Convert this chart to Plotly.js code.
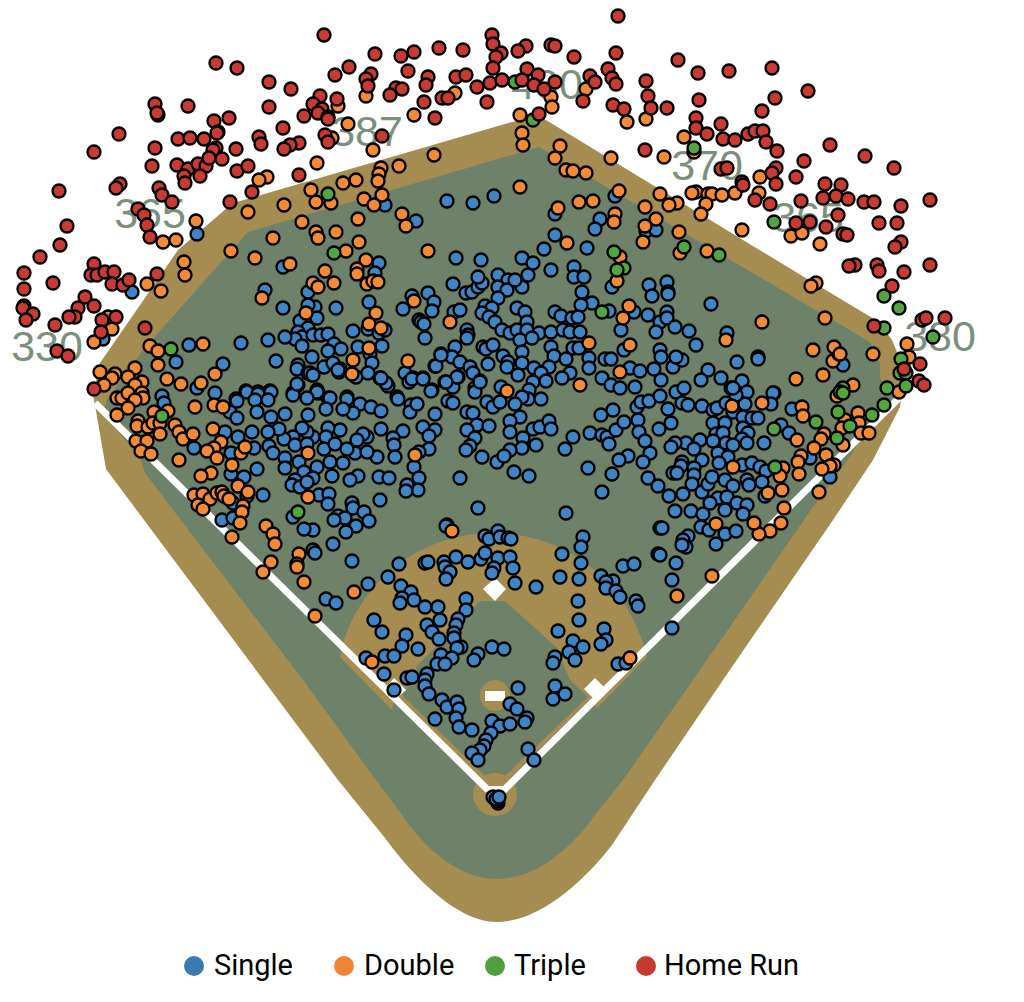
<!DOCTYPE html>
<html><head><meta charset="utf-8">
<script src="https://cdn.plot.ly/plotly-3.0.1.min.js"></script>
<style>html,body{margin:0;padding:0;background:#fff}#c{width:1024px;height:1002px}</style>
</head><body><div id="c"></div>
<script>
const categories=["Single","Double","Triple","Home Run"];
const distanceLabels=["330","365","387","400","370","365","380"];
const distanceX=[47,150,367,547,707,808,940];
const distanceY=[350,217,135,88,169,221,340];
const keyX=[194,344,495,646];
const keyTextX=[214,364,514,664];
const singlePts=[[197,234],[132,292],[103,339],[283,267],[447,201],[473,203],[494,196],[385,205],[416,221],[456,258],[481,260],[379,263],[375,273],[265,290],[308,292],[283,308],[336,308],[369,302],[315,307],[308,305],[300,321],[317,318],[308,328],[298,332],[302,337],[295,339],[285,337],[268,340],[241,343],[189,345],[302,346],[313,335],[321,335],[328,334],[334,344],[341,349],[328,351],[353,331],[368,329],[379,333],[385,330],[382,346],[358,347],[370,354],[372,363],[312,357],[276,361],[223,364],[176,362],[298,365],[297,369],[308,373],[312,375],[324,367],[333,363],[340,369],[339,372],[356,377],[368,373],[380,378],[388,386],[386,383],[298,385],[293,393],[317,390],[318,393],[270,391],[268,393],[258,392],[246,391],[236,399],[215,393],[197,388],[162,396],[347,397],[328,398],
[412,296],[428,293],[434,302],[432,311],[403,309],[454,312],[460,310],[419,320],[421,322],[424,324],[425,338],[453,284],[466,293],[472,292],[478,287],[482,283],[478,277],[498,275],[508,280],[498,287],[507,290],[498,298],[485,306],[492,308],[482,313],[489,317],[495,322],[502,330],[510,333],[467,330],[468,335],[467,338],[455,347],[441,354],[452,357],[460,362],[470,367],[435,366],[483,347],[486,349],[493,345],[503,356],[488,364],[508,362],[423,378],[405,373],[409,382],[413,378],[445,382],[453,387],[458,377],[473,373],[480,381],[475,388],[501,387],[432,390],[397,397],
[310,373],[313,375],[338,370],[381,378],[412,379],[423,379],[431,391],[436,366],[441,355],
[164,403],[247,392],[258,394],[271,392],[237,401],[255,400],[268,400],[293,395],[297,384],[317,392],[307,398],[330,398],[347,399],[360,404],[371,407],[381,411],[353,413],[343,409],[326,409],[308,415],[285,414],[271,417],[257,412],[230,412],[237,418],[398,399],[411,405],[410,412],[417,404],[435,414],[448,401],[453,403],[467,412],[473,413],[477,425],[489,426],[467,430],[475,438],[470,446],[466,450],[482,457],[497,462],[460,478],[478,508],[447,525],
[475,392],[480,382],[487,402],[493,407],[457,377],[446,382],
[423,427],[435,430],[429,436],[429,449],[419,452],[403,431],[393,438],[394,445],[395,457],[377,457],[381,429],[367,437],[363,434],[357,440],[355,453],[367,452],[340,430],[328,428],[326,437],[313,437],[307,432],[302,428],[293,437],[284,439],[279,429],[268,432],[252,432],[238,437],[225,432],[254,448],[269,446],[273,453],[295,445],[307,444],[324,449],[335,444],[347,449],[330,462],[343,463],[317,467],[299,462],[285,458],[285,468],[304,472],[313,478],[332,476],[358,476],[350,480],[379,477],[389,478],[414,467],[419,478],[418,490],[407,485],[406,491],[380,500],[295,480],[292,485],[300,487],[307,482],[257,469],[231,453],[231,474],[244,477],[247,496],[263,495],[233,503],[222,520],[233,518],[194,448],[319,495],[329,494],[328,504],[352,503],[353,508],[364,512],[338,516],[345,518],[334,520],[369,521],[356,526],[346,532],[333,544],[313,530],[304,529],[293,517],[313,550],[315,553],[352,561],[326,599],[336,603],[368,584],[388,577],[399,564],
[446,526],[425,563],[428,562],[444,562],[445,567],[450,572],[446,579],[456,557],[468,562],[481,559],[485,553],[485,536],[489,539],[498,531],[500,537],[508,538],[511,539],[498,558],[510,557],[494,568],[492,573],[513,568],[515,583],[536,587],[562,554],[583,537],[581,547],[581,563],[560,577],[579,579],[578,601],[579,620],[623,566],[634,564],[601,576],[613,581],[606,582],[606,588],[616,591],[620,597],[636,601],[638,606],[658,554],[660,528],
[401,586],[411,592],[402,598],[400,603],[414,600],[425,607],[438,607],[466,599],[466,610],[440,620],[458,619],[456,625],[374,620],[382,632],[427,625],[432,632],[454,633],[454,638],[439,639],[406,635],[402,646],[418,649],[461,647],[457,648],[492,647],[504,649],[478,654],[474,660],[441,655],[452,658],[437,664],[445,664],[385,656],[394,656],[366,658],[384,674],[394,690],[407,678],[412,677],[427,674],[425,680],[425,686],[429,694],[442,700],[447,707],[457,702],[459,709],[456,718],[435,719],[459,727],[472,730],[492,721],[500,726],[510,724],[510,704],[517,709],[527,718],[525,722],[518,688],[491,733],[486,740],[484,746],[480,750],[472,753],[478,760],[528,749],[534,760],
[558,631],[555,657],[553,663],[573,641],[583,647],[569,652],[575,660],[604,629],[606,640],[601,644],[618,664],[626,663],[555,686],[565,694],[553,699],[498,803],[497,801],[493,797],[496,799],[499,797],
[615,196],[555,214],[600,219],[595,229],[646,231],[656,230],[555,235],[544,249],[587,248],[522,258],[533,263],[551,270],[574,267],[574,277],[584,277],[528,275],[522,287],[515,280],[582,292],[612,287],[649,285],[667,282],[652,296],[668,292],[668,294],[711,304],[592,303],[581,305],[609,311],[634,312],[555,312],[561,316],[572,318],[578,317],[667,312],[648,315],[660,322],[667,318],[675,327],[689,331],[656,332],[621,330],[727,333],[696,345],[517,308],[525,312],[527,322],[517,330],[527,330],[539,333],[551,332],[563,330],[570,332],[580,332],[520,340],[532,338],[551,347],[573,348],[579,348],[522,352],[624,350],[660,350],[661,357],
[554,356],[566,359],[589,358],[522,363],[534,368],[549,367],[541,373],[570,373],[562,378],[589,368],[605,359],[611,359],[630,368],[640,371],[654,369],[673,367],[682,360],[676,357],[661,380],[602,378],[611,385],[620,388],[635,387],[708,370],[701,380],[721,378],[737,362],[758,357],[758,359],[742,381],[731,388],[747,392],[774,393],[843,365],
[507,367],[518,375],[533,382],[546,381],[529,390],[528,399],[541,399],[522,397],[515,404],[500,402],[520,417],[510,421],[510,432],[533,429],[540,427],[549,421],[551,429],[523,438],[536,445],[522,448],[510,450],[504,456],[514,472],[529,476],[565,449],[573,437],[590,433],[602,435],[607,437],[609,444],[616,430],[624,422],[638,420],[639,432],[645,441],[650,453],[643,462],[628,456],[619,460],[601,415],[613,410],[588,468],[612,474],[602,492],[566,513],[648,478],[658,486],[669,496],[683,494],[675,511],[691,511],[703,514],[662,528],[701,527],[709,530],[725,534],[736,531],[716,544],[688,536],[683,540],[686,547],[682,545],[660,555],[676,563],[672,580],[672,628],
[659,429],[671,423],[637,407],[641,402],[649,401],[660,396],[676,392],[684,388],[668,409],[682,403],[688,405],[702,406],[713,410],[717,408],[726,403],[733,412],[745,404],[743,417],[752,418],[758,418],[713,423],[725,423],[743,428],[748,433],[716,434],[723,433],[742,439],[747,443],[726,443],[733,445],[713,441],[700,440],[686,443],[675,443],[671,447],[694,449],[702,460],[718,453],[728,457],[719,463],[682,462],[681,466],[673,473],[677,473],[694,468],[694,475],[692,484],[702,492],[708,484],[712,477],[725,480],[733,486],[742,465],[752,463],[760,467],[766,471],[747,480],[749,485],[762,482],[765,496],[718,498],[727,497],[710,503],[737,503],[747,505],[743,514],[725,510],[792,409],[781,425],[789,433],[764,443],[810,458],[830,477],[773,393],[771,404],[736,395],[733,388]];
const doublePts=[[366,96],[338,106],[455,93],[414,115],[348,124],[332,138],[373,150],[434,155],[399,166],[317,163],[267,177],[259,180],[381,168],[379,174],[378,181],[356,180],[343,183],[311,190],[382,195],[364,199],[374,205],[316,202],[331,203],[284,205],[248,212],[196,221],[402,214],[406,226],[358,219],[302,222],[316,232],[318,238],[336,232],[273,238],[359,242],[346,251],[428,251],[231,251],[255,258],[163,242],[176,240],[184,262],[185,275],[290,264],[366,260],[325,271],[357,269],[357,274],[334,283],[313,283],[318,287],[367,284],[373,281],[378,282],[147,284],[161,291],[262,298],[414,301],[306,313],[376,313],[450,322],[108,317],[112,329],[369,324],[381,328],[94,342],[203,344],[150,346],[158,351],[369,348],[353,360],[408,361],
[100,372],[115,374],[112,378],[104,385],[135,368],[128,377],[142,382],[135,385],[158,365],[167,379],[181,384],[201,383],[215,374],[117,398],[122,398],[128,393],[142,393],[143,398],[135,400],[128,408],[117,415],[154,412],[168,411],[138,421],[137,426],[148,427],[153,423],[160,423],[160,434],[175,425],[179,432],[183,439],[193,434],[195,407],[214,405],[223,407],[213,429],[221,442],[214,448],[207,451],[217,458],[136,441],[147,441],[141,451],[151,454],[179,460],[232,465],[241,453],[245,447],[211,473],[201,476],[238,486],[248,492],[194,495],[203,494],[210,499],[217,493],[222,492],[224,496],[229,499],[198,505],[203,509],[243,506],[242,512],[240,523],[266,526],[273,534],[275,544],[232,537],[271,562],[263,572],[299,554],[297,564],[297,567],[304,582],[354,592],[315,616],[308,453],[308,497],[352,374],[415,455],[452,531],[372,662],
[507,391],[580,385],[620,372],[732,406],[762,403],[802,407],[803,416],[796,379],[823,375],[833,361],[839,354],[813,350],[873,354],[853,385],[837,396],[899,392],[858,413],[845,420],[859,423],[842,428],[861,433],[869,433],[843,445],[824,434],[821,439],[814,448],[797,440],[801,456],[798,462],[826,455],[834,465],[830,466],[822,469],[799,474],[783,468],[780,476],[782,490],[768,493],[733,467],[819,492],[784,508],[781,523],[770,531],[759,534],[754,523],[716,524],[712,576],[677,596],[630,658],
[586,89],[551,97],[552,107],[520,115],[522,133],[523,145],[560,146],[555,158],[627,122],[646,119],[684,137],[611,158],[664,157],[694,152],[566,170],[573,171],[586,173],[520,187],[760,177],[619,191],[660,194],[696,192],[692,193],[708,194],[712,194],[722,195],[735,193],[759,193],[677,203],[669,205],[706,204],[701,214],[558,208],[579,202],[593,201],[645,207],[656,219],[615,214],[614,222],[645,226],[679,232],[643,242],[742,230],[791,236],[802,233],[820,244],[567,243],[707,251],[680,253],[620,257],[617,281],[816,283],[811,286],[629,306],[623,318],[762,322],[825,318],[907,344],[589,343],[630,345],[726,340],[834,347],[840,354],[909,357]];
const triplePts=[[328,194],[334,253],[171,349],[162,416],[298,512],[515,82],[533,120],[694,148],[774,222],[684,247],[719,255],[614,252],[624,268],[617,270],[602,312],[884,296],[899,308],[884,328],[933,337],[901,359],[900,373],[906,373],[906,386],[887,388],[843,388],[840,392],[884,405],[872,415],[816,422],[838,412],[843,393],[850,426],[837,438],[774,429],[775,467]];
const homerunPts=[[324,35],[216,63],[237,68],[269,82],[291,89],[375,54],[349,67],[335,75],[371,74],[366,79],[368,86],[401,56],[414,52],[439,48],[463,50],[492,35],[493,44],[501,53],[496,57],[493,68],[408,71],[428,77],[426,85],[456,77],[466,75],[477,87],[490,83],[502,80],[396,88],[402,89],[390,95],[424,102],[442,98],[448,98],[487,102],[435,118],[320,96],[337,99],[313,104],[322,109],[318,113],[328,117],[328,119],[304,116],[269,107],[283,128],[155,104],[158,115],[157,113],[188,106],[214,121],[229,118],[218,132],[217,133],[259,137],[261,144],[119,134],[94,152],[155,148],[178,139],[190,138],[204,139],[216,148],[213,150],[236,149],[299,143],[290,145],[284,149],[325,135],[328,142],[382,136],[152,166],[177,165],[188,169],[198,164],[206,166],[209,158],[222,159],[184,176],[185,183],[200,176],[237,171],[248,166],[299,175],[120,184],[116,188],[59,191],[159,188],[162,195],[172,202],[230,202],[252,192],[138,209],[144,215],[147,225],[150,237],[67,226],[60,245],[40,257],[94,264],[24,273],[91,275],[97,275],[105,272],[114,272],[112,284],[123,285],[129,280],[157,274],[53,283],[24,289],[85,297],[94,306],[78,308],[75,317],[69,317],[24,306],[23,308],[33,314],[26,320],[55,325],[116,317],[102,320],[101,332],[145,328],[57,351],[68,356],[94,389],
[618,16],[526,46],[518,51],[551,45],[555,46],[574,57],[616,53],[678,60],[698,73],[729,71],[772,68],[808,91],[775,98],[527,69],[538,75],[522,80],[534,85],[544,89],[555,82],[590,76],[595,82],[608,69],[612,78],[616,84],[646,81],[648,96],[651,108],[667,108],[699,100],[762,111],[583,101],[613,105],[624,109],[539,114],[696,118],[696,128],[707,134],[721,124],[723,139],[735,140],[748,134],[755,131],[763,131],[766,142],[777,151],[830,145],[865,156],[894,168],[804,161],[645,150],[721,169],[727,168],[776,168],[772,173],[796,177],[742,182],[743,185],[776,184],[825,184],[841,185],[836,196],[823,198],[848,199],[864,202],[874,202],[901,206],[930,200],[801,201],[755,200],[770,204],[838,215],[796,223],[810,222],[826,227],[879,223],[897,223],[843,234],[847,235],[901,242],[895,247],[855,265],[849,266],[877,265],[879,271],[904,272],[930,265],[892,286],[874,326],[922,320],[926,318],[945,318],[920,364],[904,369],[919,381],[924,385]];

const TAN="#a58c51",GRASS="#6e8269",LABEL="#7a907c";
const fill=(path,color)=>({type:"path",path,fillcolor:color,line:{width:0},layer:"below"});
const shapes=[
 fill("M93,395 L100,363 L178,250 L227,208 L237,202 L512,122 L530,118 L541,117 L809,280 L879,322 L892,340 L899,357 L903,385 L900,407 L873,460 L833,520 L723,680 L655,780 L612,845 C585,880 540,922 497,922 C455,922 410,872 385,838 L338,780 L106,469 L95,405 Z",TAN),
 fill("M103,412 L107,400 L125,375 L143,350 L248,232 L512,155 L539,147 L552,155 L870,342 L880,363 L880,377 L886,390 L897,400 L862,436 L853,452 L813,507 L693,680 L623,780 L595,815 C570,850 535,879 497,879 C460,879 425,850 400,812 L376,780 L303,680 L145,473 L140,458 Z",GRASS),
 fill("M340,657 L343,643 C364,577 424,533 493,533 C562,533 622,577 643,643 L647,657 L597,708 L589,700 L503,785 L487,785 L395,700 L392,710 Z",TAN),
 fill("M480,601 L505,601 L557,648 L567,673 L570,680 L588,697 L503,778 L487,778 L402,695 L418,673 L416,667 Z",GRASS),
 {type:"circle",xref:"x",yref:"y",x0:480,x1:510,y0:680,y1:711,fillcolor:TAN,line:{width:0},layer:"below"},
 {type:"circle",xref:"x",yref:"y",x0:473,x1:517,y0:773,y1:816,fillcolor:TAN,line:{width:0},layer:"below"},
 {type:"rect",x0:485,x1:505,y0:691,y1:701,fillcolor:"#fff",line:{width:0},layer:"below"},
 {type:"line",x0:95,y0:403,x1:488,y1:790,line:{color:"#fff",width:7},layer:"below"},
 {type:"line",x0:900,y0:397,x1:502,y1:792,line:{color:"#fff",width:7},layer:"below"},
 {type:"rect",x0:487,x1:503,y0:786,y1:793,fillcolor:"#fff",line:{width:0},layer:"below"},
 fill("M483,589 L495,578 L506,589 L495,601 Z","#fff"),
 fill("M384,690 L394,678 L406,690 L395,700 Z","#fff"),
 fill("M584,689 L595,678 L606,689 L595,700 Z","#fff")
];
const COLORS={Single:"#3f84c4",Double:"#f48a35",Triple:"#52a63f",Run:"#c93a33"};
const dots=(pts,color,name)=>({type:"scatter",mode:"markers",name,x:pts.map(p=>p[0]),y:pts.map(p=>p[1]),showlegend:false,hoverinfo:"name",marker:{size:13,color,line:{color:"#000",width:2.3}}});
const traces=[
 {type:"scatter",mode:"text",x:distanceX,y:distanceY,text:distanceLabels,textposition:"middle center",textfont:{family:"Liberation Sans",size:43,color:LABEL},showlegend:false,hoverinfo:"skip"},
 dots(singlePts,COLORS.Single,categories[0]),
 dots(doublePts,COLORS.Double,categories[1]),
 dots(triplePts,COLORS.Triple,categories[2]),
 dots(homerunPts,COLORS.Run,categories[3]),
 {type:"scatter",mode:"markers",x:keyX,y:keyX.map(()=>966),showlegend:false,hoverinfo:"skip",marker:{size:20,color:["#3a7ab2","#ef8636","#519e3e","#c53932"]}},
 {type:"scatter",mode:"text",x:keyTextX,y:keyX.map(()=>968),text:categories,textposition:"middle right",textfont:{family:"Roboto",size:29,color:"#000"},showlegend:false,hoverinfo:"skip"}
];
Plotly.newPlot("c",traces,{width:1024,height:1002,margin:{l:0,r:0,t:0,b:0},paper_bgcolor:"#fff",plot_bgcolor:"#fff",showlegend:false,hovermode:"closest",shapes,
 xaxis:{range:[0,1024],visible:false,fixedrange:true},
 yaxis:{range:[1002,0],visible:false,fixedrange:true}},{displayModeBar:false,responsive:false});
</script></body></html>
